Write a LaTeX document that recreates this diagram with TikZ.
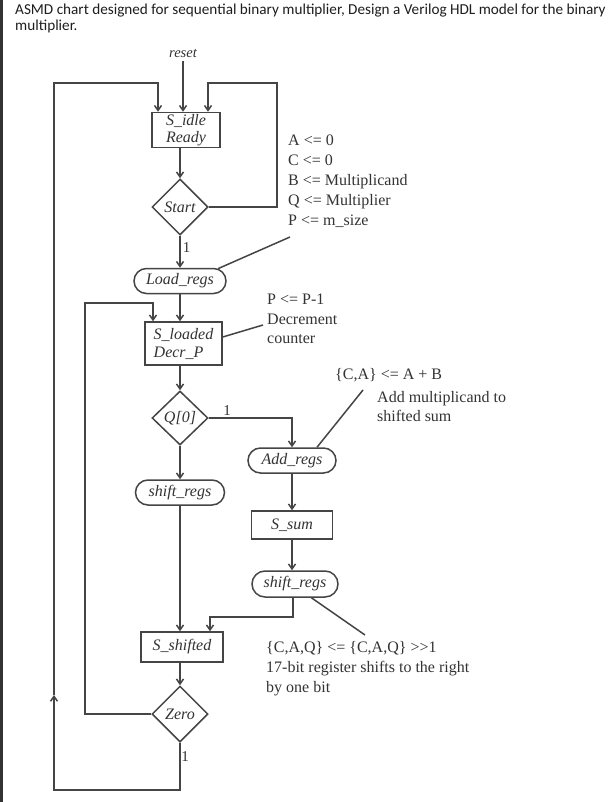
\documentclass[tikz,border=0pt]{standalone}
\usepackage{fontspec}
\setmainfont{Liberation Serif}
\newfontfamily\titlefont{Carlito}
\usetikzlibrary{shapes.geometric,shapes.misc,arrows.meta}
\definecolor{ln}{HTML}{454545}
\definecolor{txt}{HTML}{333333}
\definecolor{ttl}{HTML}{1E1E1E}
\begin{document}
\begin{tikzpicture}[x=1pt,y=-1pt,
  every node/.style={text=txt, inner sep=0pt},
  flow/.style={draw=ln, line width=1.5pt},
  arr/.style={flow, -{Straight Barb[length=5pt,width=7pt]}},
  stbox/.style={draw=ln, line width=1.5pt, rectangle, align=center, font=\fontsize{16}{19}\selectfont\itshape},
  decbox/.style={draw=ln, line width=1.5pt, diamond, aspect=1, minimum width=56pt, minimum height=56pt, font=\fontsize{16}{17}\selectfont\itshape},
  condbox/.style={draw=ln, line width=1.5pt, rounded rectangle, minimum height=25pt, font=\fontsize{16}{18}\selectfont\itshape},
  ann/.style={anchor=north west, align=left, font=\fontsize{16}{20}\selectfont},
  lbl/.style={font=\fontsize{15}{16}\selectfont}
]
\useasboundingbox (0,0) rectangle (615,802);
\fill[white] (0,0) rectangle (615,802);
\fill[txt] (0,0) rectangle (3,802);

% title
\node[anchor=north west, align=left, text=ttl, font=\titlefont\fontsize{15.2}{16}\selectfont] (title) at (15,4)
  {ASMD chart designed for sequential binary multiplier, Design a Verilog HDL model for the binary\\multiplier.};

% nodes
\node[font=\fontsize{14.5}{16}\selectfont\itshape] (reset) at (183,53) {reset};
\node[stbox, minimum width=68pt, minimum height=35pt] (idle) at (186,130) {S\_idle\\[-2pt]Ready};
\node[decbox] (start) at (180,207) {Start};
\node[condbox, minimum width=92pt] (load) at (180,281) {Load\_regs};
\node[stbox, minimum width=77pt, minimum height=43pt, align=left] (loaded) at (183.5,343.5) {S\_loaded\\[-1pt]Decr\_P};
\node[decbox, minimum height=54pt, minimum width=56pt] (q0) at (180,418) {Q[0]};
\node[condbox, minimum width=88pt] (addr) at (292,460.5) {Add\_regs};
\node[condbox, minimum width=89pt] (shl) at (180,492.5) {shift\_regs};
\node[stbox, minimum width=81pt, minimum height=28pt] (ssum) at (292,525) {S\_sum};
\node[condbox, minimum width=86pt, minimum height=26pt] (shr) at (295,584) {shift\_regs};
\node[stbox, minimum width=82pt, minimum height=30pt] (sshift) at (182,647) {S\_shifted};
\node[decbox] (zero) at (180,714) {Zero};

% coordinates
\coordinate (r1) at (277,83);
\coordinate (r2) at (208,83);
\coordinate (l1) at (54,790);
\coordinate (la) at (54,695);
\coordinate (l2) at (54,83);
\coordinate (l3) at (158,83);
\coordinate (s1) at (85,303);
\coordinate (s2) at (153,303);
\coordinate (m1) at (210,617);
\coordinate (m0) at (293,617);

% connectors
\draw[arr] (reset.south) ++(0,4) -- (reset.south |- idle.north);
\draw[arr] (start.north |- idle.south) -- (start.north);
\draw[arr] (start.east) -| (r1) -- (r2) -- (r2 |- idle.north);
\draw[arr] (start.south) -- (load.north);
\draw[arr] (load.south) -- (load.south |- loaded.north);
\draw[arr] (q0.north |- loaded.south) -- (q0.north);
\draw[arr] (q0.east) -| (addr.north);
\draw[arr] (q0.south) -- (q0.south |- shl.north);
\draw[arr] (shl.south) -- (shl.south |- sshift.north);
\draw[arr] (addr.south) -- (addr.south |- ssum.north);
\draw[arr] (ssum.south) -- (ssum.south |- shr.north);
\draw[arr] (m0 |- shr.south) -- (m0) -- (m1) -- (m1 |- sshift.north);
\draw[arr] (sshift.south -| zero.north) -- (zero.north);
\draw[arr] (zero.west) -| (s1) -- (s2) -- (s2 |- loaded.north);
\draw[arr] (zero.south) |- (l1) -- (la);
\draw[arr] (la) -- (l2) -- (l3) -- (l3 |- idle.north);

% branch labels
\node[lbl] (one1) at (186.5,248) {1};
\node[lbl] (one2) at (227,411) {1};
\node[lbl] (one3) at (185,757) {1};

% annotations
\node[ann] (a1) at (288,134.5) {A <= 0\\C <= 0\\B <= Multiplicand\\Q <= Multiplier\\P <= m\_size};
\coordinate (c1) at (290,237);
\draw[flow] (load.18) -- (c1);

\node[ann, font=\fontsize{16}{19.5}\selectfont] (a2) at (267,294) {P <= P-1\\Decrement\\counter};
\coordinate (c2) at (263,325);
\draw[flow] ([yshift=6.5pt]loaded.east) -- (c2);

\node[anchor=west, font=\fontsize{16}{20}\selectfont] (a3) at (335,375) {\{C,A\} <= A + B};
\node[ann, font=\fontsize{16}{19}\selectfont] (a4) at (377,391) {Add multiplicand to\\shifted sum};
\coordinate (c3) at (363,390);
\draw[flow] ([xshift=25pt]addr.north) -- (c3);

\node[ann] (a5) at (266,641) {\{C,A,Q\} <= \{C,A,Q\} {>}{>}1\\17-bit register shifts to the right\\by one bit};
\coordinate (c4) at (365,635);
\draw[flow] (shr.-40) -- (c4);
\end{tikzpicture}
\end{document}
